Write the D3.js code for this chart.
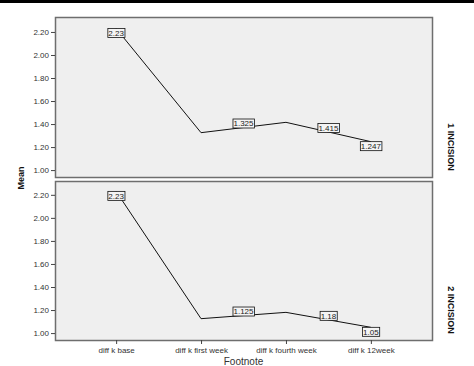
<!DOCTYPE html>
<html lang="en">
<head>
<meta charset="utf-8">
<title></title>
<script src="https://cdn.jsdelivr.net/npm/d3@7"></script>
<style>
  body { margin: 0; background: #fff; }
  text { font-family: "Liberation Sans", Arial, sans-serif; }
</style>
</head>
<body>
<svg width="474" height="366"></svg>
<script>
var categories = ['diff k base', 'diff k first week', 'diff k fourth week', 'diff k 12week'];
var groups = ['1 INCISION', '2 INCISION'];
var incision1 = [2.23, 1.325, 1.415, 1.247];
var incision2 = [2.23, 1.125, 1.18, 1.05];
var yTicks = [1.0, 1.2, 1.4, 1.6, 1.8, 2.0, 2.2];
// where each value label sits along the line (category index)
var labelAt = [0, 1.5, 2.5, 3];

var svg = d3.select('svg');

// black strip across the top of the scan
svg.append('rect').attr('x', 0).attr('y', 0).attr('width', 474).attr('height', 3).attr('fill', '#000');

var x = d3.scalePoint()
    .domain(categories)
    .range([55, 432])
    .padding(0.72);

var panels = [
    {name: groups[0], values: incision1, top: 17, bottom: 177, max: 2.33},
    {name: groups[1], values: incision2, top: 181, bottom: 340, max: 2.32}
];

panels.forEach(function(p, pi){
    var y = d3.scaleLinear().domain([0.94, p.max]).range([p.bottom, p.top]);

    svg.append('rect')
        .attr('x', 55.5).attr('y', p.top + 0.5)
        .attr('width', 377).attr('height', p.bottom - p.top)
        .attr('fill', '#efefef')
        .attr('stroke', '#6e6e6e')
        .attr('stroke-width', 1.5);

    var yAxis = svg.append('g')
        .attr('transform', 'translate(55,0)')
        .call(d3.axisLeft(y).tickValues(yTicks).tickFormat(d3.format('.2f')).tickSize(4).tickPadding(2));
    yAxis.select('.domain').remove();
    yAxis.selectAll('line').attr('stroke', '#444');
    yAxis.selectAll('text').attr('fill', '#333').style('font-size', '8px').style('font-family', '"Liberation Sans", Arial, sans-serif');

    var line = d3.line()
        .x(function(d, i){ return x(categories[i]); })
        .y(function(d){ return y(d); });

    svg.append('path')
        .datum(p.values)
        .attr('d', line)
        .attr('fill', 'none')
        .attr('stroke', '#111')
        .attr('stroke-width', 1);

    var step = x.step();
    var labels = svg.selectAll('g.lab' + pi)
        .data(p.values)
        .enter()
        .append('g')
        .attr('class', 'lab' + pi)
        .attr('transform', function(d, i){
            var t = labelAt[i];
            var k = Math.floor(t), f = t - k;
            var v = f > 0 ? p.values[k] + f * (p.values[k + 1] - p.values[k]) : p.values[k];
            var px = x(categories[0]) + t * step;
            var py = y(v) + (f > 0 ? -4 : 4.5);
            return 'translate(' + px + ',' + py + ')';
        });

    labels.append('text')
        .attr('text-anchor', 'middle')
        .attr('dy', '0.35em')
        .style('font-size', '8px')
        .attr('fill', '#222')
        .text(function(d){ return String(d); });

    labels.each(function(){
        var g = d3.select(this);
        var b = g.select('text').node().getBBox();
        g.insert('rect', 'text')
            .attr('x', b.x - 0.5).attr('y', -4.5)
            .attr('width', b.width + 1).attr('height', 9)
            .attr('fill', '#f4f4f4')
            .attr('stroke', '#111')
            .attr('stroke-width', 0.8);
    });

    svg.append('text')
        .attr('transform', 'translate(451,' + (p.bottom - 30) + ') rotate(90)')
        .attr('text-anchor', 'middle')
        .attr('dy', '0.35em')
        .style('font-size', '9px')
        .style('font-weight', 'bold')
        .attr('fill', '#111')
        .text(p.name);
});

var xAxis = svg.append('g')
    .attr('transform', 'translate(0,340)')
    .call(d3.axisBottom(x).tickSize(4).tickPadding(3));
xAxis.select('.domain').remove();
xAxis.selectAll('line').attr('stroke', '#444');
xAxis.selectAll('text').attr('fill', '#333').style('font-size', '8px').style('font-family', '"Liberation Sans", Arial, sans-serif');

svg.append('text')
    .attr('transform', 'translate(21,178) rotate(-90)')
    .attr('text-anchor', 'middle')
    .attr('dy', '0.35em')
    .style('font-size', '9px')
    .style('font-weight', 'bold')
    .attr('fill', '#111')
    .text('Mean');

svg.append('text')
    .attr('x', 243.5).attr('y', 365)
    .attr('text-anchor', 'middle')
    .style('font-size', '10px')
    .attr('fill', '#333')
    .text('Footnote');
</script>
</body>
</html>
